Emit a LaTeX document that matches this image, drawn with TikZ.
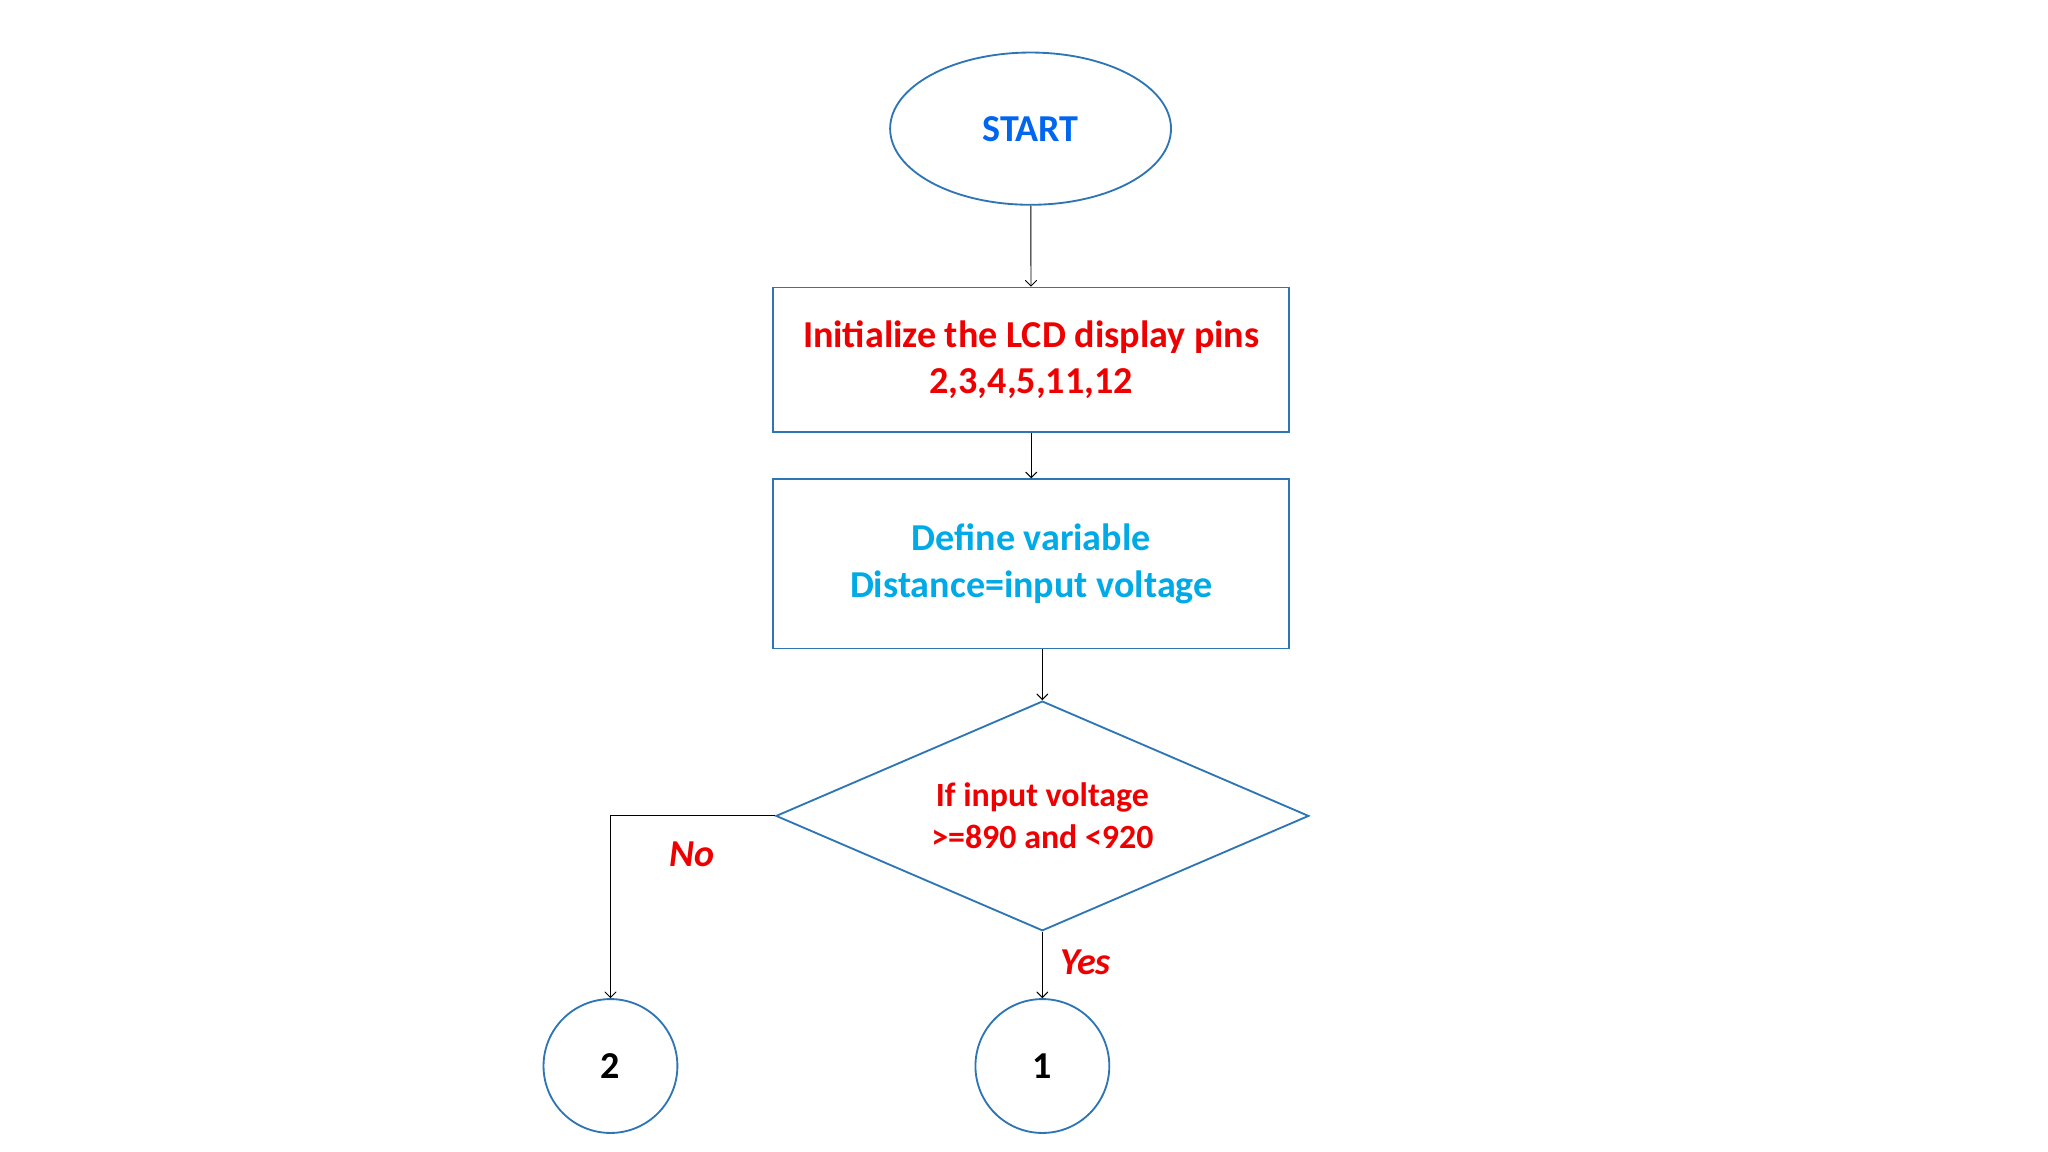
\documentclass[tikz,border=0pt]{standalone}
\usepackage{fontspec}
\setmainfont{Carlito}
\usetikzlibrary{positioning,arrows,calc,shapes.geometric}
\definecolor{edgeblue}{RGB}{46,117,182}
\definecolor{startblue}{RGB}{0,102,240}
\definecolor{txtred}{RGB}{238,0,0}
\definecolor{txtcyan}{RGB}{0,170,230}
\tikzset{
    x=0.02cm, y=-0.02cm,
    term/.style = {
        draw=edgeblue,
        shape=ellipse,
        minimum width=4.28cm,
        minimum height=2.32cm,
        line width=0.8pt
    },
    block/.style = {
        draw=edgeblue,
        shape=rectangle,
        minimum width=7.86cm,
        align=center,
        line width=0.8pt
    },
    decision/.style = {
        draw=edgeblue,
        shape=diamond,
        minimum width=8.12cm,
        minimum height=3.5cm,
        aspect=2.3,
        inner sep=0pt,
        align=center,
        font=\fontsize{14.7}{18}\selectfont\bfseries,
        line width=0.8pt
    },
    connector/.style = {
        draw=edgeblue,
        shape=circle,
        minimum size=2.04cm,
        line width=0.8pt
    },
    label/.style = {
        text=txtred,
        font=\fontsize{16.5}{20}\selectfont\bfseries\itshape
    },
    >=angle 90,
}
\begin{document}
\begin{tikzpicture}[font=\fontsize{16.5}{20}\selectfont\bfseries]
        \useasboundingbox (3,0) rectangle (1563,877.5);
        \node[term, text=startblue] (start) at (788,98) {START};
        \node[block, minimum height=2.2cm, text=txtred] (init) at (788.5,274) {Initialize the LCD display pins\\2,3,4,5,11,12};
        \node[block, minimum height=2.58cm, text=txtcyan] (define) at (788.5,429.5) {Define variable\\Distance=input voltage};
        \node[decision, text=txtred] (check) at (797,621.5) {If input voltage\\>=890 and <920};
        \node[connector] (two) at (468,812) {2};
        \node[connector] (one) at (797,812) {1};

        \draw[->] (start) -- (init);
        \draw[->] (init) -- (define);
        \draw[->] (define.south -| check.north) -- (check.north);
        \draw[->] (check.west) -| (two.north);
        \draw[->] (check.south) -- (one.north);

        \node[label] (no) at (530,651) {No};
        \node[label] (yes) at (830,733) {Yes};
    \end{tikzpicture}
\end{document}
